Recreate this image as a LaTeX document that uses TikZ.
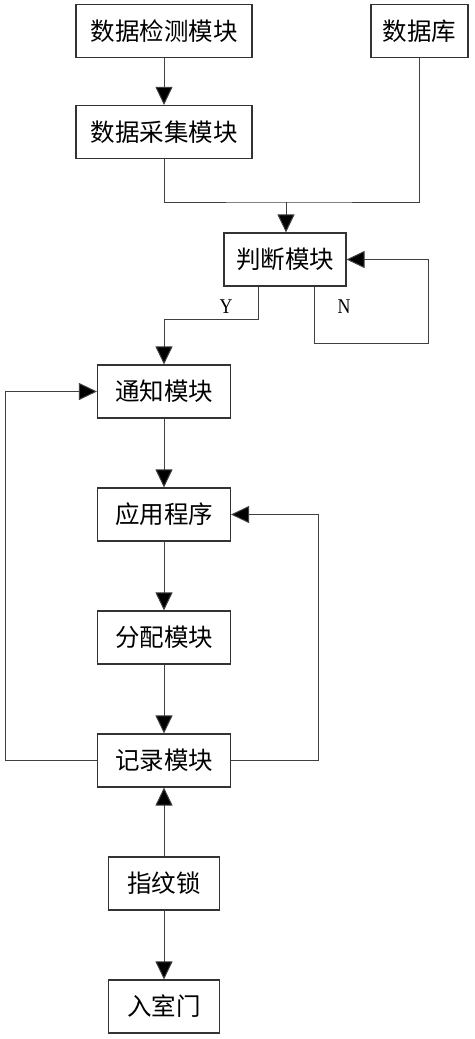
\documentclass[tikz,border=0pt]{standalone}
\usepackage{fontspec}
\usepackage{tikz}
\usetikzlibrary{arrows.meta}
\newfontfamily\cjk{Noto Sans CJK SC}
\newfontfamily\yn{Liberation Serif}
\begin{document}
\begin{tikzpicture}[x=1pt,y=-1pt,
  box/.style={draw=black!80,line width=1.1pt,fill=white,inner sep=0pt,
    minimum height=53pt,font=\cjk\fontsize{24.5}{24.5}\selectfont},
  wire/.style={draw=black!75,line width=1pt},
  arr/.style={wire,-{Triangle[length=18pt,width=17pt,fill=black]}},
  answer/.style={font=\yn\fontsize{21}{21}\selectfont,inner sep=0pt,xscale=0.85}]
\useasboundingbox (0,0) rectangle (474,1039);
\node[box,minimum width=176pt] (det) at (164,31) {数据检测模块};
\node[box,minimum width=97pt] (db) at (419.5,31) {数据库};
\node[box,minimum width=176pt] (col) at (164,132) {数据采集模块};
\node[box,minimum width=122pt] (judge) at (285,259.5) {判断模块};
\node[box,minimum width=133pt] (notify) at (164,391.5) {通知模块};
\node[box,minimum width=133pt] (app) at (164,514.5) {应用程序};
\node[box,minimum width=133pt] (alloc) at (164,637.5) {分配模块};
\node[box,minimum width=133pt] (rec) at (164,760.5) {记录模块};
\node[box,minimum width=111pt] (lock) at (164,883.5) {指纹锁};
\node[box,minimum width=111pt] (door) at (164,1006.5) {入室门};
\coordinate (merge) at (286,202);
\coordinate (ylo) at (258,319);
\coordinate (nlo) at (314,343);
\coordinate (nre) at (428,343);
\coordinate (lft) at (5,760.5);
\coordinate (rgt) at (318,760.5);
\node[answer] (y) at (226,307) {Y};
\node[answer] (n) at (344,307) {N};
\draw[arr] (det) -- (col);
\draw[wire] (col.south) |- (merge) -| (db.south);
\draw[arr] (merge) -- (merge |- judge.north);
\draw[arr] (ylo |- judge.south) -- (ylo) -| (notify.north);
\draw[arr] (nlo |- judge.south) -- (nlo) -- (nre) |- (judge.east);
\draw[arr] (notify) -- (app);
\draw[arr] (app) -- (alloc);
\draw[arr] (alloc) -- (rec);
\draw[arr] (rec.west) -- (lft) |- (notify.west);
\draw[arr] (rec.east) -- (rgt) |- (app.east);
\draw[arr] (lock) -- (rec);
\draw[arr] (lock) -- (door);
\end{tikzpicture}
\end{document}
